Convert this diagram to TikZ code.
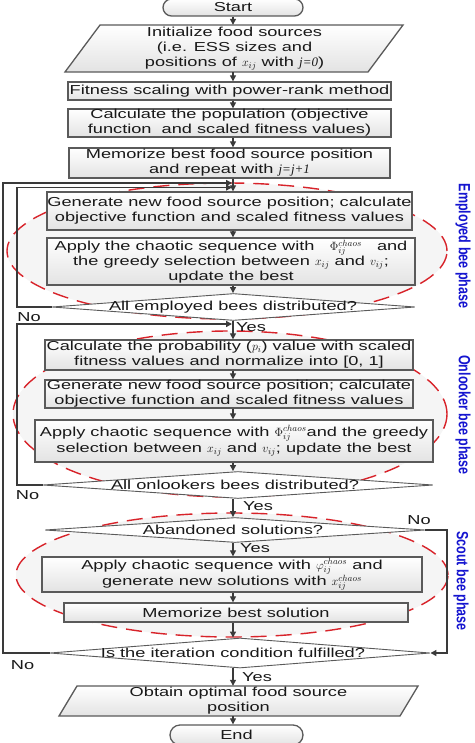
\documentclass[tikz,border=0pt]{standalone}
\usepackage{fontspec}
\setmainfont{Liberation Sans}[FakeStretch=1.4]
\newfontfamily\labfont{Liberation Sans}
\newfontfamily\serifit{Liberation Serif}
\newcommand\mitxt[1]{{\serifit\itshape #1}}
\usetikzlibrary{arrows.meta,shapes.geometric,calc}
\definecolor{linec}{HTML}{3A3A3A}
\definecolor{boxline}{HTML}{5A5A5A}
\definecolor{dashred}{HTML}{D8232A}
\definecolor{phaseblue}{HTML}{1515D0}
\begin{document}
\begin{tikzpicture}[x=1pt,y=-1pt,
  every node/.style={font=\fontsize{13}{15}\selectfont, inner sep=0pt, text=black!90},
  procbox/.style={draw=boxline, line width=1.3pt, top color=white, bottom color=gray!22, align=center},
  termbox/.style={procbox},
  decbox/.style={diamond, draw=boxline, line width=0.9pt, fill=white, inner sep=0pt},
  conn/.style={draw=linec, line width=1.2pt, -{Triangle[length=6pt,width=6pt]}},
  loopline/.style={draw=linec, line width=1.3pt, -{Triangle[length=6pt,width=6pt]}},
  outerline/.style={draw=linec, line width=1.9pt, -{Triangle[length=6pt,width=6pt]}},
  phasering/.style={draw=dashred, line width=1.4pt, dash pattern=on 16pt off 9pt, fill=gray!8},
  phaselabel/.style={font=\labfont\bfseries\fontsize{12.5}{14}\selectfont, text=phaseblue, rotate=-90},
  lbl/.style={font=\fontsize{13}{15}\selectfont},
  wide/.style={font=\fontsize{13}{16.5}\selectfont}
]
\useasboundingbox (0,0) rectangle (474,743);
\fill[white] (0,0) rectangle (474,743);

% phase ellipses (behind)
\path[phasering] (227,251) ellipse [x radius=220pt, y radius=68pt];
\path[phasering] (230,414) ellipse [x radius=217pt, y radius=83pt];
\path[phasering] (232,575) ellipse [x radius=216pt, y radius=62pt];

\coordinate (ax) at (233,0);

% terminals
\node[termbox, rounded corners=8.5pt, minimum width=140pt, minimum height=17pt] (start) at (233,7.5) {Start};
\node[termbox, rounded corners=10pt, minimum width=133pt, minimum height=20pt] (end) at (236.5,735) {End};

% init parallelogram
\path[procbox] (100,25) -- (403,25) -- (368,72) -- (65,72) -- cycle;
\node[minimum width=300pt, minimum height=47pt, align=center] (init) at (234.5,48.5)
  {Initialize food sources\\(i.e. ESS sizes and\\positions of $x_{ij}$ with \mitxt{j=0})};

\node[procbox, minimum width=323pt, minimum height=18pt] (fit) at (229.5,91) {Fitness scaling with power-rank method};
\node[procbox, minimum width=323pt, minimum height=28pt] (pop) at (229.5,123) {Calculate the population (objective\\function \ and scaled fitness values)};
\node[procbox, minimum width=321pt, minimum height=30pt] (mem) at (229.5,163) {Memorize best food source position\\and repeat with \mitxt{j=j+1}};

% employed
\node[procbox, minimum width=365pt, minimum height=38pt] (e1) at (229.5,211) {Generate new food source position; calculate\\objective function and scaled fitness values};
\node[procbox, minimum width=368pt, minimum height=47pt] (e2) at (231,261.5) {Apply the chaotic sequence with \ \ $\Phi_{ij}^{chaos}$ \ \ and\\the greedy selection between $x_{ij}$ and $v_{ij}$;\\update the best};
\node[decbox, minimum width=363pt, minimum height=27pt] (d1) at (233.5,307) {};
\node[lbl] (d1t) at (233,307) {All employed bees distributed?};

% onlooker
\node[procbox, minimum width=368pt, minimum height=30pt] (prob) at (229,355) {Calculate the probability ($p_i$) value with scaled\\fitness values and normalize into [0, 1]};
\node[procbox, minimum width=368pt, minimum height=28pt] (o1) at (229,394) {Generate new food source position; calculate\\objective function and scaled fitness values};
\node[procbox, wide, minimum width=398pt, minimum height=42pt] (o2) at (234,441) {Apply chaotic sequence with $\Phi_{ij}^{chaos}$and the greedy\\selection between $x_{ij}$ and $v_{ij}$; update the best};
\node[decbox, minimum width=390pt, minimum height=27pt] (d2) at (238,485) {};
\node[lbl] (d2t) at (235,485) {All onlookers bees distributed?};

% scout
\node[decbox, minimum width=380pt, minimum height=25pt] (d3) at (235,530) {};
\node[lbl] (d3t) at (233,530) {Abandoned solutions?};
\node[procbox, wide, minimum width=380pt, minimum height=35pt] (s1) at (232,574.5) {Apply chaotic sequence with $\varphi_{ij}^{chaos}$ and\\generate new solutions with $x_{ij}^{chaos}$};
\node[procbox, minimum width=344pt, minimum height=19pt] (s2) at (236,612.5) {Memorize best solution};

% iteration
\node[decbox, minimum width=380pt, minimum height=30pt] (d4) at (240,653) {};
\node[lbl] (d4t) at (233,653) {Is the iteration condition fulfilled?};

% obtain parallelogram
\path[procbox] (77,686) -- (418,686) -- (400,716) -- (59,716) -- cycle;
\node[minimum width=320pt, minimum height=30pt, align=center] (obt) at (238.5,701) {Obtain optimal food source\\position};

% vertical connectors
\draw[conn] (start.south -| ax) -- (init.north -| ax);
\draw[conn] (init.south -| ax) -- (fit.north -| ax);
\draw[conn] (fit.south -| ax) -- (pop.north -| ax);
\draw[conn] (pop.south -| ax) -- (mem.north -| ax);
\draw[conn] (mem.south -| ax) -- (e1.north -| ax);
\draw[conn] (e1.south -| ax) -- (e2.north -| ax);
\draw[conn] (e2.south -| ax) -- (d1.north -| ax);
\draw[conn] (d1.south -| ax) -- (prob.north -| ax);
\draw[conn] (prob.south -| ax) -- (o1.north -| ax);
\draw[conn] (o1.south -| ax) -- (o2.north -| ax);
\draw[conn] (o2.south -| ax) -- (d2.north -| ax);
\draw[conn] (d2.south -| ax) -- (d3.north -| ax);
\draw[conn] (d3.south -| ax) -- (s1.north -| ax);
\draw[conn] (s1.south -| ax) -- (s2.north -| ax);
\draw[conn] (s2.south -| ax) -- (d4.north -| ax);
\draw[conn] (d4.south -| ax) -- (obt.north -| ax);
\draw[conn] (obt.south -| ax) -- (end.north -| ax);

% loops
\coordinate (outerin) at (232,183);
\coordinate (empin) at (232,187.5);
\coordinate (onlin) at (232,324);
\draw[outerline] (d4.west) -- (3,653) |- (outerin);
\draw[loopline] (d1.west) -- (17,307) |- (empin);
\draw[loopline] (d2.west) -- (17,485) |- (onlin);
\draw[loopline] (d3.east) -- (447,530) |- (d4.east);

% yes / no labels
\node[lbl, anchor=west] (y1) at (236,327) {Yes};
\node[lbl, anchor=west] (y2) at (243,506) {Yes};
\node[lbl, anchor=west] (y3) at (240,548) {Yes};
\node[lbl, anchor=west] (y4) at (242,677) {Yes};
\node[lbl] (n1) at (29,317) {No};
\node[lbl] (n2) at (27.5,495) {No};
\node[lbl] (n3) at (22.5,665) {No};
\node[lbl] (n4) at (419,520) {No};

% phase labels
\node[phaselabel] (pe) at (463,246) {\scalebox{1}[1.3]{Employed bee phase}};
\node[phaselabel] (po) at (463,415) {\scalebox{1}[1.3]{Onlooker bee phase}};
\node[phaselabel] (ps) at (461,581) {\scalebox{1}[1.3]{Scout bee phase}};
\end{tikzpicture}
\end{document}
